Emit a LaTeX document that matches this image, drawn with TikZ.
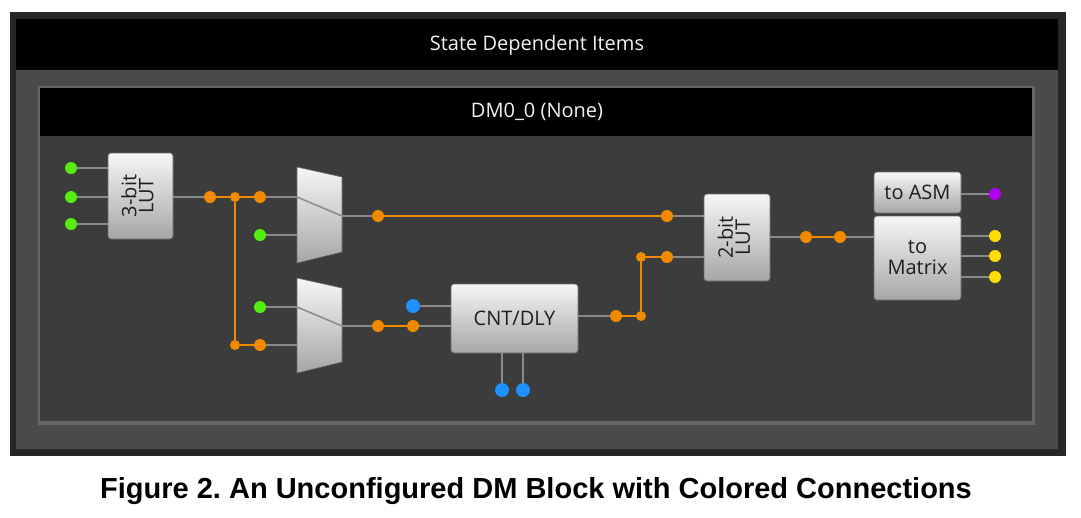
\documentclass[tikz,border=0pt]{standalone}
\usepackage{fontspec}
\setmainfont{Open Sans}
\newfontfamily\capfont{Liberation Sans}
\frenchspacing
\begin{document}
\begin{tikzpicture}[x=1pt,y=-1pt,
  wire/.style={draw=wiregray,line width=1.5pt},
  owire/.style={draw=wireor,line width=2pt},
  dotg/.style={circle,fill=#1,inner sep=0pt,minimum size=12pt},
  gdot/.style={dotg=dgreen},
  bdot/.style={dotg=dblue,minimum size=14pt},
  odot/.style={circle,fill=wireor,inner sep=0pt,minimum size=12pt},
  jdot/.style={circle,fill=wireor,inner sep=0pt,minimum size=10pt},
  blk/.style={rounded corners=3pt,draw=boxedge,line width=0.6pt,top color=boxtop,bottom color=boxbot,
    inner sep=0pt,font=\fontsize{20}{21}\selectfont,text=boxtext,align=center},
  mux/.style={draw=boxedge,line width=0.6pt,top color=boxtop,bottom color=boxbot}]
\definecolor{wiregray}{HTML}{8A8A8A}
\definecolor{wireor}{HTML}{F28A00}
\definecolor{dgreen}{HTML}{55EE11}
\definecolor{dblue}{HTML}{1E90FF}
\definecolor{dpurple}{HTML}{B000F0}
\definecolor{dyellow}{HTML}{FFDD00}
\definecolor{boxtop}{HTML}{F6F6F6}
\definecolor{boxbot}{HTML}{A6A6A6}
\definecolor{boxedge}{HTML}{6A6A6A}
\definecolor{boxtext}{HTML}{1E1E1E}
\definecolor{panel}{HTML}{3C3C3C}
\definecolor{frame}{HTML}{4A4A4A}
\useasboundingbox (0,0) rectangle (1081,517);
\fill[white] (0,0) rectangle (1081,517);
% outer frame
\fill[black!85] (10,12) rectangle (1066,456);
\fill[frame] (16,70) rectangle (1058,449);
\fill[black] (16,19) rectangle (1058,70);
\node[text=white!90!gray,font=\fontsize{20}{22}\selectfont] (t1) at (537,45) {State Dependent Items};
% inner panel
\fill[black!60] (38,86) rectangle (1035,425);
\fill[panel] (40,136) rectangle (1032,421);
\fill[black] (40,88) rectangle (1032,136);
\node[text=white!90!gray,font=\fontsize{20}{22}\selectfont] (t2) at (537,112) {DM0\_0 (None)};
% blocks
\node[blk,minimum width=65pt,minimum height=86pt] (lut3) at (140.5,196) {\rotatebox{90}{\begin{tabular}{@{}c@{}}3-bit\\[-4pt]LUT\end{tabular}}};
\node[blk,minimum width=66pt,minimum height=87pt] (lut2) at (737,237.5) {\rotatebox{90}{\begin{tabular}{@{}c@{}}2-bit\\[-4pt]LUT\end{tabular}}};
\node[blk,minimum width=127pt,minimum height=69pt] (cnt) at (514.5,318.5) {CNT/DLY};
\node[blk,minimum width=87pt,minimum height=41pt] (asm) at (917.5,192.5) {to ASM};
\node[blk,minimum width=87pt,minimum height=84pt] (mtx) at (917.5,258) {to\\Matrix};
% muxes
\draw[mux] (297,167) coordinate (m1tl) -- (342,177) -- (342,252) -- (297,263) -- cycle;
\draw[mux] (297,278) coordinate (m2tl) -- (342,288) -- (342,362) -- (297,373) -- cycle;
\coordinate (m1a) at (297,197); \coordinate (m1b) at (297,235); \coordinate (m1o) at (342,216);
\coordinate (m2a) at (297,307); \coordinate (m2b) at (297,345); \coordinate (m2o) at (342,326);
\draw[wire] (m1a) -- (m1o); \draw[wire] (m2a) -- (m2o);
% LUT3 inputs
\foreach \i/\y in {1/168,2/197,3/224}{
  \node[gdot] (g\i) at (71,\y) {};
  \draw[wire] (g\i) -- (g\i -| lut3.west);
}
% LUT3 output net
\node[odot] (o1) at (210,197) {};
\node[jdot] (j1) at (235,197) {};
\node[odot] (o2) at (260,197) {};
\node[jdot] (j2) at (235,345) {};
\node[odot] (o3) at (260,345) {};
\draw[wire] (o1 -| lut3.east) -- (o1);
\draw[owire] (o1) -- (o2);
\draw[owire] (j1) -- (j2) -- (o3);
\draw[wire] (o2) -- (m1a);
\draw[wire] (o3) -- (m2b);
\node[gdot] (g4) at (260,235) {};
\draw[wire] (g4) -- (m1b);
\node[gdot] (g5) at (260,307) {};
\draw[wire] (g5) -- (m2a);
% mux1 to LUT2
\node[odot] (o4) at (378,216) {};
\node[odot] (o5) at (667,216) {};
\draw[wire] (m1o) -- (o4);
\draw[owire] (o4) -- (o5);
\draw[wire] (o5) -- (o5 -| lut2.west);
% mux2 to CNT
\node[odot] (o6) at (378,326) {};
\node[odot] (o7) at (413,326) {};
\draw[wire] (m2o) -- (o6);
\draw[owire] (o6) -- (o7);
\draw[wire] (o7) -- (o7 -| cnt.west);
\node[bdot] (b1) at (413,306) {};
\draw[wire] (b1) -- (b1 -| cnt.west);
\node[bdot] (b2) at (502,390) {};
\node[bdot] (b3) at (523,390) {};
\draw[wire] (b2) -- (b2 |- cnt.south);
\draw[wire] (b3) -- (b3 |- cnt.south);
% CNT to LUT2
\node[odot] (o8) at (616,316) {};
\node[jdot] (j3) at (641,316) {};
\node[jdot] (j4) at (641,257) {};
\node[odot] (o9) at (667,257) {};
\draw[wire] (o8 -| cnt.east) -- (o8);
\draw[owire] (o8) -- (j3) -- (j4) -- (o9);
\draw[wire] (o9) -- (o9 -| lut2.west);
% LUT2 to Matrix
\node[odot] (o10) at (806,237) {};
\node[odot] (o11) at (840,237) {};
\draw[wire] (o10 -| lut2.east) -- (o10);
\draw[owire] (o10) -- (o11);
\draw[wire] (o11) -- (o11 -| mtx.west);
% outputs
\node[dotg=dpurple] (p1) at (995,194) {};
\draw[wire] (p1 -| asm.east) -- (p1);
\foreach \i/\y in {1/236,2/256,3/277}{
  \node[dotg=dyellow] (y\i) at (995,\y) {};
  \draw[wire] (y\i -| mtx.east) -- (y\i);
}
% caption
\node[font=\capfont\bfseries\fontsize{29}{32}\selectfont] (cap) at (536,491) {Figure 2. An Unconfigured DM Block with Colored Connections};
\end{tikzpicture}
\end{document}
